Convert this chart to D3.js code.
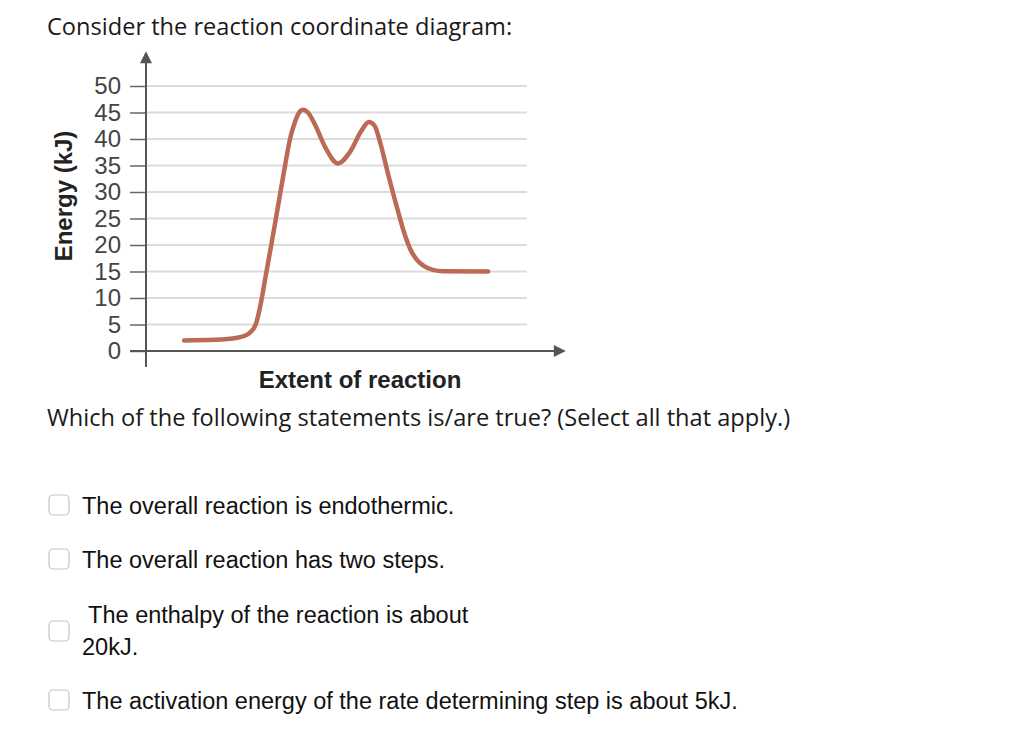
<!DOCTYPE html>
<html>
<head>
<meta charset="utf-8">
<script src="https://cdn.jsdelivr.net/npm/d3@7"></script>
<style>
  html, body { margin: 0; padding: 0; background: #fff; }
  svg { display: block; }
  .q { font-family: "Open Sans", sans-serif; font-size: 23.6px; fill: #1a1a1a; }
  .opt { font-family: "Liberation Sans", Arial, sans-serif; font-size: 23.5px; fill: #111; }
  .lbl { font-family: "Liberation Sans", Arial, sans-serif; font-weight: bold; font-size: 24px; fill: #222; }
  .axis text { font-family: "Liberation Sans", Arial, sans-serif; font-size: 24px; fill: #444; }
</style>
</head>
<body>
<svg id="svg" width="1024" height="740"></svg>
<script>

// curve
var extent = [10, 18, 24, 27, 28.8, 30, 31.5, 33, 35, 36.5, 37.8, 39, 40.2, 41.2, 42.5, 44.5, 47, 50.4, 53.5, 56.5, 58.5, 60, 61.4, 63.5, 65.9, 68, 69.5, 71.1, 73, 75.3, 78, 89.8];
var energy = [2, 2.1, 2.5, 3.3, 5, 8.5, 14.5, 20.5, 28.8, 35, 40, 43, 45, 45.5, 45, 42.5, 38.5, 35.4, 37.5, 41.5, 43.2, 42.5, 39.5, 33.5, 27, 21.8, 19, 17.2, 16, 15.3, 15.05, 15];
var energyTicks = [0, 5, 10, 15, 20, 25, 30, 35, 40, 45, 50];

var title = 'Consider the reaction coordinate diagram:';
var question = 'Which of the following statements is/are true? (Select all that apply.)';
var options = [
  ['The overall reaction is endothermic.'],
  ['The overall reaction has two steps.'],
  [' The enthalpy of the reaction is about', '20kJ.'],
  ['The activation energy of the rate determining step is about 5kJ.']
];

var svg = d3.select('#svg');

var x = d3.scaleLinear().domain([0, 100]).range([146, 527]);
var y = d3.scaleLinear().domain([0, 50]).range([351, 86]);

// arrow heads
var defs = svg.append('defs');
defs.append('marker')
  .attr('id', 'arrow')
  .attr('viewBox', '0 0 10 10')
  .attr('refX', 1).attr('refY', 5)
  .attr('markerUnits', 'userSpaceOnUse')
  .attr('markerWidth', 22).attr('markerHeight', 12)
  .attr('orient', 'auto')
  .append('path')
  .attr('d', 'M0,0 L10,5 L0,10 Z')
  .attr('fill', '#555');

svg.append('text').attr('class', 'q')
  .attr('x', 47).attr('y', 35)
  .text(title);

// gridlines
svg.append('g').selectAll('line')
  .data(energyTicks.filter(function (d) { return d > 0; }))
  .enter().append('line')
  .attr('x1', x(0)).attr('x2', x(100))
  .attr('y1', function (d) { return y(d); })
  .attr('y2', function (d) { return y(d); })
  .attr('stroke', '#dcdcdc')
  .attr('stroke-width', 2);

// y axis
var yAxis = svg.append('g')
  .attr('class', 'axis')
  .attr('transform', 'translate(' + x(0) + ',0)')
  .call(d3.axisLeft(y).tickValues(energyTicks).tickSize(16).tickPadding(9));
yAxis.select('.domain').remove();
yAxis.selectAll('.tick line').attr('stroke', '#666').attr('stroke-width', 1.5);

svg.append('line')
  .attr('x1', x(0)).attr('x2', x(0))
  .attr('y1', 367).attr('y2', 62)
  .attr('stroke', '#555').attr('stroke-width', 2)
  .attr('marker-end', 'url(#arrow)');

svg.append('line')
  .attr('x1', 130).attr('x2', 555)
  .attr('y1', y(0)).attr('y2', y(0))
  .attr('stroke', '#555').attr('stroke-width', 2)
  .attr('marker-end', 'url(#arrow)');

// energy curve
var line = d3.line()
  .x(function (d, i) { return x(extent[i]); })
  .y(function (d) { return y(d); })
  .curve(d3.curveMonotoneX);

svg.append('path')
  .datum(energy)
  .attr('d', line)
  .attr('fill', 'none')
  .attr('stroke', '#bb6a55')
  .attr('stroke-width', 4.5)
  .attr('stroke-linecap', 'round');

// axis titles
svg.append('text').attr('class', 'lbl')
  .attr('transform', 'translate(72,196) rotate(-90)')
  .attr('text-anchor', 'middle')
  .text('Energy (kJ)');

svg.append('text').attr('class', 'lbl')
  .attr('x', 360).attr('y', 388)
  .attr('text-anchor', 'middle')
  .text('Extent of reaction');

svg.append('text').attr('class', 'q')
  .attr('x', 47).attr('y', 426)
  .text(question);

// answer choices
var optY = [505, 559, 631, 700];
var opt = svg.append('g').selectAll('g')
  .data(options)
  .enter().append('g')
  .attr('transform', function (d, i) { return 'translate(0,' + optY[i] + ')'; });

opt.append('rect')
  .attr('x', 49).attr('y', -10)
  .attr('width', 20).attr('height', 20)
  .attr('rx', 4)
  .attr('fill', '#fff')
  .attr('stroke', '#c4c4c4')
  .attr('stroke-width', 1.2);

opt.each(function (d) {
  var g = d3.select(this);
  var top = d.length > 1 ? -8 : 9;
  d.forEach(function (s, j) {
    g.append('text').attr('class', 'opt')
      .attr('x', 82).attr('y', top + j * 32)
      .style('white-space', 'pre')
      .text(s);
  });
});

</script>
</body>
</html>
